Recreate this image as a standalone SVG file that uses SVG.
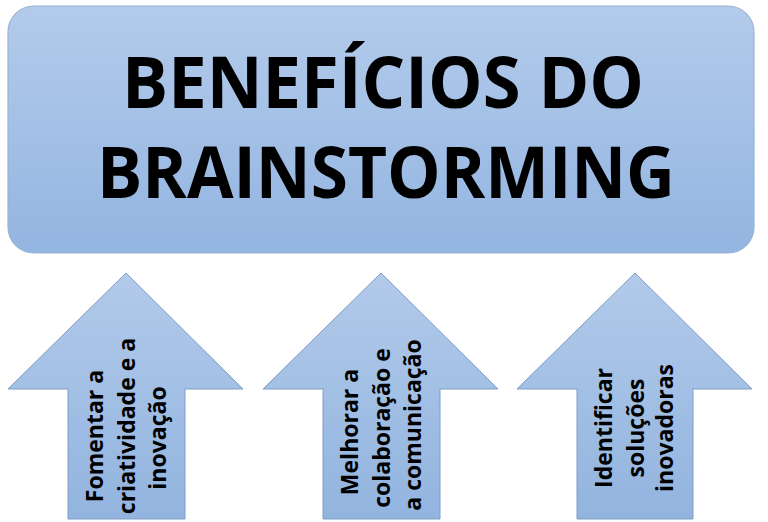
<svg xmlns="http://www.w3.org/2000/svg" width="768" height="522" viewBox="0 0 768 522">
<defs>
<linearGradient id="gBox" x1="0" y1="0" x2="0" y2="1">
<stop offset="0" stop-color="#b3cbeb"/>
<stop offset="1" stop-color="#93b5e1"/>
</linearGradient>
<linearGradient id="gArrow" x1="0" y1="0" x2="0" y2="1">
<stop offset="0" stop-color="#b2caea"/>
<stop offset="1" stop-color="#92b4df"/>
</linearGradient>
<style>
.title{font-family:"Open Sans","Liberation Sans",sans-serif;font-weight:bold;font-size:72px;fill:#000;text-anchor:middle}
.lbl{font-family:"Open Sans","Liberation Sans",sans-serif;font-weight:bold;font-size:23px;fill:#000;text-anchor:middle}
.arrow{fill:url(#gArrow);stroke:#809dc4;stroke-width:1}
</style>
</defs>
<rect width="768" height="522" fill="#ffffff"/>
<g id="title-box">
<rect x="8" y="6" width="746" height="247" rx="26" ry="26" fill="url(#gBox)" stroke="#9ab2d3" stroke-width="1.2"/>
<text class="title" x="383" y="108" textLength="522" lengthAdjust="spacingAndGlyphs">BENEFÍCIOS DO</text>
<text class="title" x="386" y="198" textLength="578" lengthAdjust="spacingAndGlyphs">BRAINSTORMING</text>
</g>
<g id="connectors"></g>
<g id="arrow1">
<polygon class="arrow" points="126,273 243,389 185,389 185,519 68,519 68,389 8,389"/>
<g transform="translate(126,432) rotate(-90)">
<text class="lbl" x="-4" y="-23">Fomentar a</text>
<text class="lbl" x="6" y="9">criatividade e a</text>
<text class="lbl" x="-6" y="40">inovação</text>
</g>
</g>
<g id="arrow2">
<polygon class="arrow" points="381,273 498,389 440,389 440,519 323,519 323,389 263,389"/>
<g transform="translate(381,428) rotate(-90)">
<text class="lbl" x="-4" y="-23">Melhorar a</text>
<text class="lbl" x="0" y="9">colaboração e</text>
<text class="lbl" x="3" y="40">a comunicação</text>
</g>
</g>
<g id="arrow3">
<polygon class="arrow" points="635,273 752,389 693,389 693,519 577,519 577,389 517,389"/>
<g transform="translate(635,428) rotate(-90)">
<text class="lbl" x="0" y="-23">Identificar</text>
<text class="lbl" x="0" y="9">soluções</text>
<text class="lbl" x="0" y="38">inovadoras</text>
</g>
</g>
</svg>
